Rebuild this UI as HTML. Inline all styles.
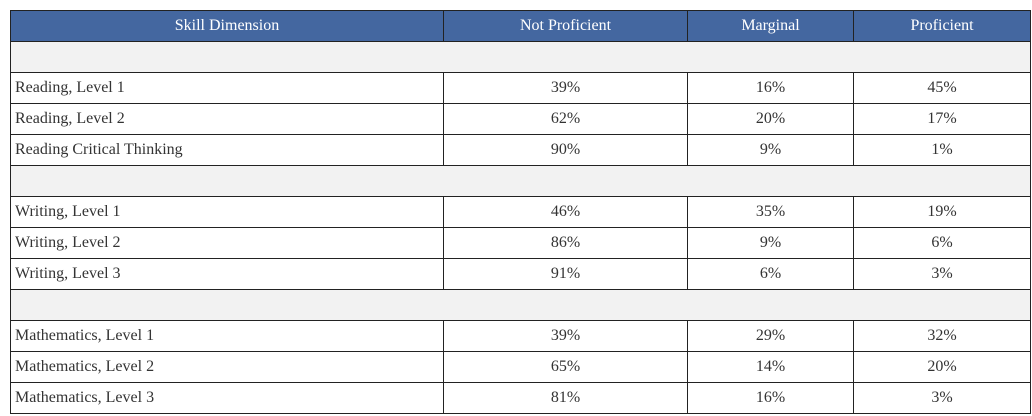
<!DOCTYPE html>
<html><head><style>
html,body{margin:0;padding:0;background:#fff;width:1032px;height:416px;overflow:hidden}
table{position:absolute;left:10px;top:10px;border-collapse:collapse;table-layout:fixed;font-family:"Liberation Serif","DejaVu Serif",serif;font-size:16px;color:#333}
td,th{border:1px solid #222;height:31px;padding:0 4px;box-sizing:border-box;text-align:center;font-weight:normal}
td.l{text-align:left;padding-left:4px}
th{background:#4467a0;color:#fff;height:31px}
tr.g td{background:#f2f2f2}
</style></head><body>
<table>
<colgroup><col style="width:433px"><col style="width:244px"><col style="width:166px"><col style="width:177px"></colgroup>
<tr><th>Skill Dimension</th><th>Not Proficient</th><th>Marginal</th><th>Proficient</th></tr>
<tr class="g"><td colspan="4"></td></tr>
<tr><td class="l">Reading, Level 1</td><td>39%</td><td>16%</td><td>45%</td></tr>
<tr><td class="l">Reading, Level 2</td><td>62%</td><td>20%</td><td>17%</td></tr>
<tr><td class="l">Reading Critical Thinking</td><td>90%</td><td>9%</td><td>1%</td></tr>
<tr class="g"><td colspan="4"></td></tr>
<tr><td class="l">Writing, Level 1</td><td>46%</td><td>35%</td><td>19%</td></tr>
<tr><td class="l">Writing, Level 2</td><td>86%</td><td>9%</td><td>6%</td></tr>
<tr><td class="l">Writing, Level 3</td><td>91%</td><td>6%</td><td>3%</td></tr>
<tr class="g"><td colspan="4"></td></tr>
<tr><td class="l">Mathematics, Level 1</td><td>39%</td><td>29%</td><td>32%</td></tr>
<tr><td class="l">Mathematics, Level 2</td><td>65%</td><td>14%</td><td>20%</td></tr>
<tr><td class="l">Mathematics, Level 3</td><td>81%</td><td>16%</td><td>3%</td></tr>
</table>
</body></html>
